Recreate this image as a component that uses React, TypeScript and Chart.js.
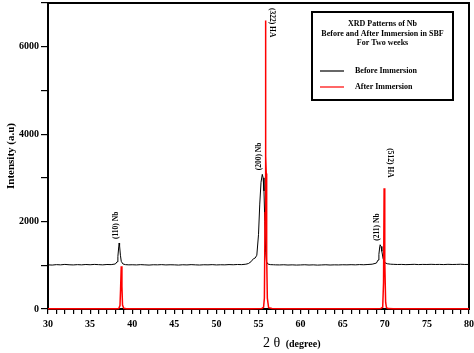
import React, { useEffect, useRef } from "react";
import { Chart, registerables } from "chart.js";

Chart.register(...registerables);

// ---- data ----
const beforeX = [
  30, 30.5, 31, 31.5, 32, 32.5, 33, 33.5, 34, 34.5, 35, 35.5, 36, 36.5, 37, 37.5,
  38.0, 38.2, 38.3, 38.4, 38.45, 38.5, 38.6, 38.7, 38.9, 39.2, 39.6, 40, 40.5, 41,
  41.5, 42, 42.5, 43, 43.5, 44, 44.5, 45, 45.5, 46, 46.5, 47, 47.5, 48, 48.5, 49,
  49.5, 50, 50.5, 51, 51.5, 52, 52.5, 53, 53.5, 53.8, 54.1, 54.4, 54.6, 54.8, 55.0,
  55.15, 55.3, 55.45, 55.55, 55.65, 55.75, 55.85, 55.95, 56.1, 56.4, 56.8, 57, 57.5,
  58, 58.5, 59, 59.5, 60, 60.5, 61, 61.5, 62, 62.5, 63, 63.5, 64, 64.5, 65, 65.5,
  66, 66.5, 67, 67.5, 68, 68.5, 69.0, 69.2, 69.3, 69.4, 69.45, 69.55, 69.65, 69.8,
  70.0, 70.3, 70.7, 71, 71.5, 72, 72.5, 73, 73.5, 74, 74.5, 75, 75.5, 76, 76.5, 77,
  77.5, 78, 78.5, 79, 79.5, 80,
];
const beforeY = [
  1010, 1005, 1015, 1010, 1020, 1012, 1008, 1015, 1010, 1018, 1012, 1020, 1015, 1010, 1018, 1015,
  1030, 1080, 1200, 1420, 1510, 1450, 1230, 1090, 1030, 1015, 1010, 1012, 1008, 1015,
  1010, 1005, 1012, 1010, 1015, 1008, 1012, 1010, 1005, 1012, 1008, 1015, 1010, 1006, 1012, 1010,
  1015, 1008, 1012, 1010, 1016, 1012, 1018, 1015, 1025, 1040, 1080, 1150, 1165, 1230, 1700,
  2400, 2900, 3080, 3000, 2700, 2000, 1300, 1080, 1030, 1015, 1012, 1010, 1008,
  1012, 1006, 1010, 1005, 1008, 1012, 1006, 1010, 1004, 1008, 1012, 1006, 1010, 1008, 1012, 1010,
  1014, 1010, 1016, 1012, 1018, 1025, 1050, 1120, 1250, 1420, 1470, 1430, 1320, 1150,
  1060, 1035, 1025, 1022, 1018, 1020, 1015, 1018, 1022, 1016, 1020, 1018, 1022, 1018, 1020, 1016,
  1022, 1018, 1020, 1024, 1018, 1020,
];

const afterX = [
  30, 31, 32, 33, 34, 35, 36, 37, 38, 38.4, 38.55, 38.62, 38.7, 38.78, 38.85, 39.0, 39.3,
  40, 42, 44, 46, 48, 50, 52, 54, 55.4, 55.6, 55.7, 55.78, 55.83, 55.87, 55.92, 55.97,
  56.05, 56.2, 56.6, 58, 60, 62, 64, 66, 68, 69.5, 69.75, 69.85, 69.92, 69.97, 70.02,
  70.1, 70.2, 70.4, 71, 73, 75, 77, 79, 80,
];
const afterY = [
  5, 8, 4, 7, 5, 6, 4, 8, 6, 10, 80, 450, 980, 520, 90, 15, 8,
  5, 7, 4, 6, 5, 7, 5, 8, 12, 40, 250, 2200, 6600, 3500, 3100, 1200,
  250, 30, 10, 6, 5, 7, 4, 6, 5, 10, 40, 600, 2760, 2700, 1100,
  150, 30, 10, 6, 5, 7, 4, 6, 5,
];

const xTickMarks = [30, 35, 40, 45, 50, 55, 60, 65, 70, 75, 80];
const yTickMarks = [0, 2000, 4000, 6000];

const seriesNames = ["Before Immersion", "After Immersion"];
const titleLines = ["XRD Patterns of Nb", "Before and After Immersion in SBF", "For Two weeks"];

// peak labels: [text, x value, y value, rotation sign (-1: bottom-to-top, 1: top-to-bottom)]
const peakLabels: [string, number, number, number][] = [
  ["(110) Nb", 38.45, 1510, -1],
  ["(200) Nb", 55.45, 3080, -1],
  ["(322) HA", 55.83, 6600, 1],
  ["(211) Nb", 69.45, 1470, -1],
  ["(512) HA", 69.95, 2760, 1],
];

const SERIF = "'Liberation Serif', 'DejaVu Serif', serif";

const overlayPlugin = {
  id: "overlay",
  beforeDatasetsDraw(chart: any) {
    const { ctx, chartArea: a } = chart;
    ctx.save();
    ctx.strokeStyle = "#000";
    ctx.lineWidth = 2;
    ctx.strokeRect(a.left, a.top, a.right - a.left, a.bottom - a.top);
    ctx.restore();
  },
  afterDraw(chart: any) {
    const { ctx, chartArea: a } = chart;
    const xs = chart.scales.x;
    const ys = chart.scales.y;
    ctx.save();
    // legend box
    const bx = a.left + 264, by = a.top + 9, bw = 141, bh = 88;
    ctx.strokeStyle = "#000";
    ctx.lineWidth = 2;
    ctx.fillStyle = "#fff";
    ctx.fillRect(bx, by, bw, bh);
    ctx.strokeRect(bx, by, bw, bh);
    ctx.fillStyle = "#000";
    ctx.font = `bold 8px ${SERIF}`;
    ctx.textAlign = "center";
    ctx.textBaseline = "middle";
    titleLines.forEach((t, i) => ctx.fillText(t, bx + bw / 2, by + 12 + i * 9.5));
    const colors = ["#000", "#ff0000"];
    seriesNames.forEach((n, i) => {
      const ly = by + 59 + i * 16;
      ctx.strokeStyle = colors[i];
      ctx.lineWidth = 1.2;
      ctx.beginPath();
      ctx.moveTo(bx + 8, ly);
      ctx.lineTo(bx + 32, ly);
      ctx.stroke();
      ctx.textAlign = "left";
      ctx.fillText(n, bx + 43, ly);
    });
    // peak labels
    ctx.font = `bold 7.5px ${SERIF}`;
    peakLabels.forEach(([t, xv, yv, dir]) => {
      const px = xs.getPixelForValue(xv);
      const py = ys.getPixelForValue(yv);
      ctx.save();
      if (dir < 0) {
        ctx.translate(px - 3, py - 4);
        ctx.rotate(-Math.PI / 2);
        ctx.textAlign = "left";
      } else {
        ctx.translate(px + 6, Math.max(a.top + 5, py - 40));
        ctx.rotate(Math.PI / 2);
        ctx.textAlign = "left";
      }
      ctx.textBaseline = "middle";
      ctx.fillText(t, 0, 0);
      ctx.restore();
    });
    // axis titles
    ctx.save();
    ctx.translate(11, (a.top + a.bottom) / 2);
    ctx.rotate(-Math.PI / 2);
    ctx.font = `bold 11px ${SERIF}`;
    ctx.textAlign = "center";
    ctx.textBaseline = "middle";
    ctx.fillText("Intensity (a.u)", 0, 0);
    ctx.restore();
    ctx.textBaseline = "alphabetic";
    ctx.textAlign = "left";
    ctx.font = `14px ${SERIF}`;
    const tx = a.left + 215;
    const ty = a.bottom + 38;
    ctx.fillText("2 θ", tx, ty);
    const w = ctx.measureText("2 θ ").width;
    ctx.font = `bold 10px ${SERIF}`;
    ctx.fillText("(degree)", tx + w + 2, ty);
    ctx.restore();
  },
};

const zeroPad = (s: any) => {
  s.paddingLeft = 0;
  s.paddingRight = 0;
  s.paddingTop = 0;
  s.paddingBottom = 0;
};

export default function App() {
  const ref = useRef<HTMLCanvasElement>(null);
  useEffect(() => {
    const canvas = ref.current;
    if (!canvas) return;
    const chart = new Chart(canvas, {
      type: "line",
      data: {
        datasets: [
          {
            label: seriesNames[1],
            data: afterX.map((x, i) => ({ x, y: afterY[i] })),
            borderColor: "#ff0000",
            borderWidth: 1.5,
            pointRadius: 0,
            tension: 0,
            clip: false as any,
            order: 0,
          },
          {
            label: seriesNames[0],
            data: beforeX.map((x, i) => ({ x, y: beforeY[i] })),
            borderColor: "#000",
            borderWidth: 1,
            pointRadius: 0,
            tension: 0,
            clip: false as any,
            order: 1,
          },
        ],
      },
      options: {
        animation: false,
        responsive: false,
        events: [],
        layout: { padding: { left: 0, right: 5, top: 3, bottom: 0 } },
        plugins: { legend: { display: false }, tooltip: { enabled: false } },
        scales: {
          x: {
            type: "linear",
            min: 30,
            max: 80,
            border: { display: false },
            grid: { drawOnChartArea: false, drawTicks: true, tickLength: 5, color: "#000", lineWidth: 1.2 },
            ticks: {
              stepSize: 1,
              autoSkip: false,
              maxRotation: 0,
              padding: 4,
              color: "#000",
              font: { family: SERIF, size: 10, weight: "bold" },
              callback: (v: any) => (xTickMarks.includes(Number(v)) ? String(v) : ""),
            },
            afterFit: (s: any) => {
              s.height = 44;
              zeroPad(s);
            },
          },
          y: {
            type: "linear",
            min: 0,
            max: 7000,
            border: { display: false },
            grid: { drawOnChartArea: false, drawTicks: true, tickLength: 7, color: "#000", lineWidth: 1.2 },
            ticks: {
              stepSize: 1000,
              autoSkip: false,
              padding: 2,
              color: "#000",
              font: { family: SERIF, size: 10, weight: "bold" },
              callback: (v: any) => (yTickMarks.includes(Number(v)) ? String(v) : ""),
            },
            afterFit: (s: any) => {
              s.width = 48;
              zeroPad(s);
            },
          },
        },
      },
      plugins: [overlayPlugin],
    });
    return () => chart.destroy();
  }, []);
  return (
    <div style={{ position: "fixed", left: 0, top: 0, width: 474, height: 353, background: "#fff" }}>
      <canvas ref={ref} width={474} height={353} />
    </div>
  );
}
